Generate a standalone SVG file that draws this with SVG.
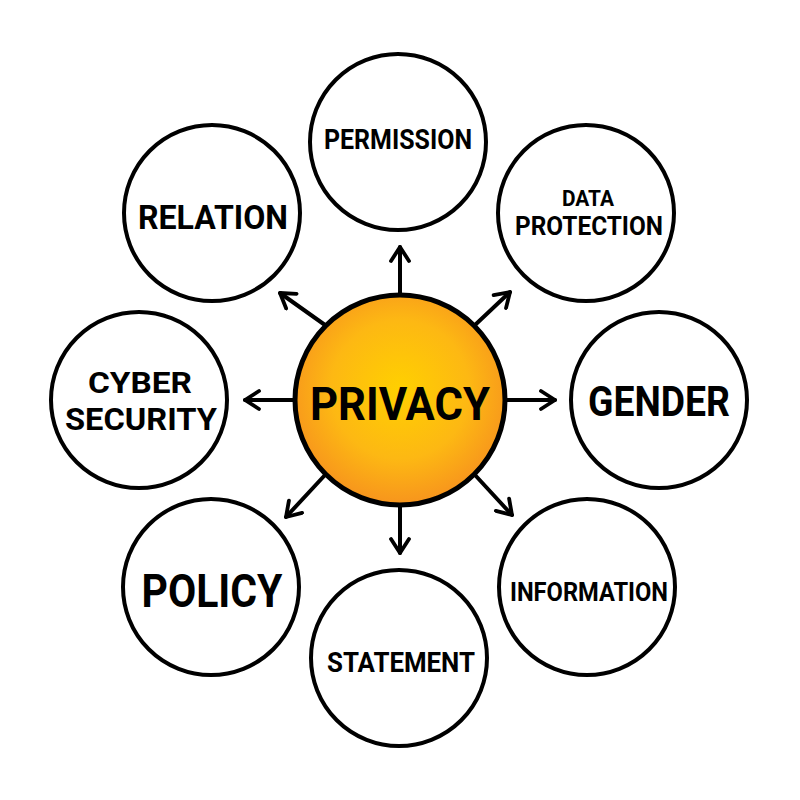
<svg xmlns="http://www.w3.org/2000/svg" width="800" height="800" viewBox="0 0 800 800">
<defs>
<radialGradient id="g" cx="50%" cy="45%" r="55%">
<stop offset="0" stop-color="#FFD000"/>
<stop offset="0.6" stop-color="#FDB813"/>
<stop offset="1" stop-color="#F7941D"/>
</radialGradient>
<marker id="ah" viewBox="0 0 22 22" refX="19" refY="11" markerWidth="22" markerHeight="22" markerUnits="userSpaceOnUse" orient="auto">
<polyline points="5,2 19,11 5,20" fill="none" stroke="#000" stroke-width="3.8" stroke-linecap="round" stroke-linejoin="round"/>
</marker>
</defs>
<style>
.n{fill:#fff;stroke:#000;stroke-width:4}
.t{font-family:Roboto,"Liberation Sans",sans-serif;font-weight:bold;fill:#000;text-anchor:middle}
.c line{stroke:#000;stroke-width:4;stroke-linecap:round;marker-end:url(#ah)}
</style>
<rect width="800" height="800" fill="#fff"/>
<g class="c">
<line x1="400" y1="295" x2="400" y2="247"/>
<line x1="400" y1="505" x2="400" y2="553"/>
<line x1="506" y1="400" x2="555" y2="400"/>
<line x1="294" y1="400" x2="245" y2="400"/>
<line x1="475" y1="325" x2="510" y2="292"/>
<line x1="325" y1="325" x2="280" y2="293"/>
<line x1="475" y1="475" x2="512" y2="515"/>
<line x1="325" y1="475" x2="286" y2="517"/>
</g>
<g id="privacy">
<circle cx="400" cy="400" r="105" fill="url(#g)" stroke="#000" stroke-width="5"/>
<text class="t" x="400" y="420" font-size="46" textLength="180" lengthAdjust="spacingAndGlyphs">PRIVACY</text>
</g>
<g id="permission">
<circle class="n" cx="398" cy="142" r="88"/>
<text class="t" x="398" y="149" font-size="27" textLength="148" lengthAdjust="spacingAndGlyphs">PERMISSION</text>
</g>
<g id="data-protection">
<circle class="n" cx="586" cy="213" r="88"/>
<text class="t" x="588" y="206" font-size="22" textLength="52" lengthAdjust="spacingAndGlyphs">DATA</text>
<text class="t" x="589" y="235" font-size="26" textLength="148" lengthAdjust="spacingAndGlyphs">PROTECTION</text>
</g>
<g id="gender">
<circle class="n" cx="659" cy="400" r="88"/>
<text class="t" x="659" y="416" font-size="42" textLength="142" lengthAdjust="spacingAndGlyphs">GENDER</text>
</g>
<g id="information">
<circle class="n" cx="587" cy="587" r="88"/>
<text class="t" x="589" y="601" font-size="26" textLength="158" lengthAdjust="spacingAndGlyphs">INFORMATION</text>
</g>
<g id="statement">
<circle class="n" cx="399" cy="658" r="88"/>
<text class="t" x="401" y="672" font-size="27" textLength="148" lengthAdjust="spacingAndGlyphs">STATEMENT</text>
</g>
<g id="policy">
<circle class="n" cx="211" cy="587" r="88"/>
<text class="t" x="212" y="607" font-size="46" textLength="141" lengthAdjust="spacingAndGlyphs">POLICY</text>
</g>
<g id="cyber-security">
<circle class="n" cx="139" cy="400" r="88"/>
<text class="t" x="140" y="393" font-size="29" textLength="104" lengthAdjust="spacingAndGlyphs">CYBER</text>
<text class="t" x="141" y="430" font-size="31" textLength="152" lengthAdjust="spacingAndGlyphs">SECURITY</text>
</g>
<g id="relation">
<circle class="n" cx="212" cy="213" r="88"/>
<text class="t" x="213" y="229" font-size="33" textLength="150" lengthAdjust="spacingAndGlyphs">RELATION</text>
</g>
</svg>
